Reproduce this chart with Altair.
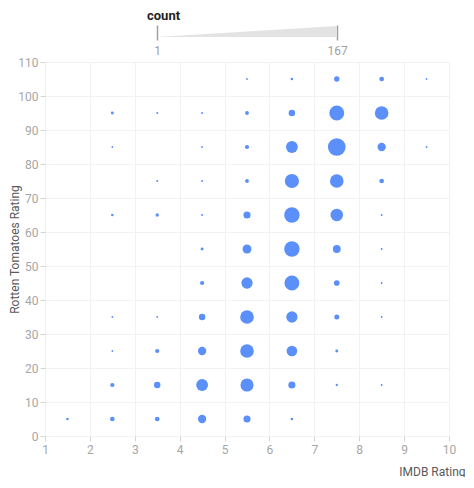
import altair as alt
import pandas as pd

# --- data (bin starts and counts) ---
imdb_bin = [5, 6, 7, 8, 9,
            2, 3, 4, 5, 6, 7, 8,
            2, 4, 5, 6, 7, 8, 9,
            3, 4, 5, 6, 7, 8,
            2, 3, 4, 5, 6, 7, 8,
            4, 5, 6, 7, 8,
            4, 5, 6, 7, 8,
            2, 3, 4, 5, 6, 7, 8,
            2, 3, 4, 5, 6, 7,
            2, 3, 4, 5, 6, 7, 8,
            1, 2, 3, 4, 5, 6]
rt_bin = [100] * 5 + [90] * 7 + [80] * 7 + [70] * 6 + [60] * 7 + [50] * 5 + \
         [40] * 5 + [30] * 7 + [20] * 6 + [10] * 7 + [0] * 6
counts = [1, 10, 38, 31, 1,
          13, 3, 3, 22, 50, 137, 124,
          1, 1, 26, 105, 167, 68, 2,
          3, 3, 22, 130, 124, 31,
          10, 17, 3, 56, 142, 112, 2,
          13, 75, 142, 63, 2,
          26, 100, 137, 41, 2,
          1, 1, 50, 124, 100, 35, 2,
          1, 26, 68, 124, 93, 13,
          26, 50, 105, 118, 56, 6, 2,
          10, 31, 31, 68, 56, 10]

legend_counts = [1, 167]
x_ticks = list(range(1, 11))
y_ticks = list(range(0, 111, 10))

df = pd.DataFrame({"imdb": imdb_bin, "rt": rt_bin, "count": counts})
leg_df = pd.DataFrame({"count": legend_counts})

W, H = 404, 374
LH = 11
FONT = "Roboto"
BLUE = "#5B8FF9"

size_scale = alt.Scale(
    type="linear",
    domain=[1, 10, 20, 35, 50, 75, 100, 130, 167],
    range=[3.14, 6.96, 12.95, 25.39, 42.01, 78.92, 127.35, 200.77, 314.16],
)

main = alt.Chart(df).transform_calculate(
    imdb_mid="datum.imdb + 0.5", rt_mid="datum.rt + 5"
).mark_circle(color=BLUE, opacity=1).encode(
    x=alt.X("imdb_mid:Q",
            scale=alt.Scale(domain=[1, 10], nice=False, zero=False),
            axis=alt.Axis(values=x_ticks, title="IMDB Rating", grid=True,
                          gridColor="#f2f2f2", domain=False, tickColor="#d6d6d6",
                          tickSize=5, labelColor="#a6a6a6", labelFontSize=12,
                          labelPadding=3, labelFlush=False,
                          titleColor="#595959", titleFontSize=12, titleFontWeight="normal",
                          titleX=W + 16, titleY=35, titleAlign="right",
                          titleBaseline="middle")),
    y=alt.Y("rt_mid:Q",
            scale=alt.Scale(domain=[0, 110], nice=False, zero=False),
            axis=alt.Axis(values=y_ticks, title="Rotten Tomatoes Rating", grid=True,
                          gridColor="#f2f2f2", domain=False, tickColor="#d6d6d6",
                          tickSize=5, labelColor="#a6a6a6", labelFontSize=12,
                          labelPadding=2, labelFlush=False,
                          titleColor="#595959", titleFontSize=12, titleFontWeight="normal",
                          titleX=-31, titleY=H / 2, titleAngle=270, titleAlign="center",
                          titleBaseline="middle")),
    size=alt.Size("count:Q", scale=size_scale, legend=None),
).properties(width=W, height=H)

# size legend drawn as a wedge over the same count range
span = 166 / 180.0
lo = 1 - 112 * span
hi = 167 + (W - 292) * span
wedge = alt.Chart(leg_df).mark_area(color="#e3e3e3").encode(
    x=alt.X("count:Q", scale=alt.Scale(domain=[lo, hi], nice=False, zero=False),
            axis=alt.Axis(values=legend_counts, title=None, grid=False, domain=False,
                          tickSize=15, tickColor="#a0a0a0", tickWidth=1.5, offset=-(LH + 1),
                          labelColor="#a0a0a0", labelFontSize=12, labelPadding=5,
                          labelFlush=False)),
    y=alt.Y("count:Q", scale=alt.Scale(domain=[1, 167], nice=False, zero=False), axis=None),
    y2=alt.value(LH),
).properties(
    width=W, height=LH,
    title=alt.TitleParams("count", anchor="start", dx=102, fontSize=13,
                          fontWeight="bold", color="#1f1f1f", offset=1),
)

chart = alt.vconcat(wedge, main, spacing=0).properties(
    padding={"left": 0, "top": 2, "right": 0, "bottom": 0}
).configure(font=FONT).configure_view(stroke=None)

chart.save("out.html", embed_options={"renderer": "svg", "actions": False})
